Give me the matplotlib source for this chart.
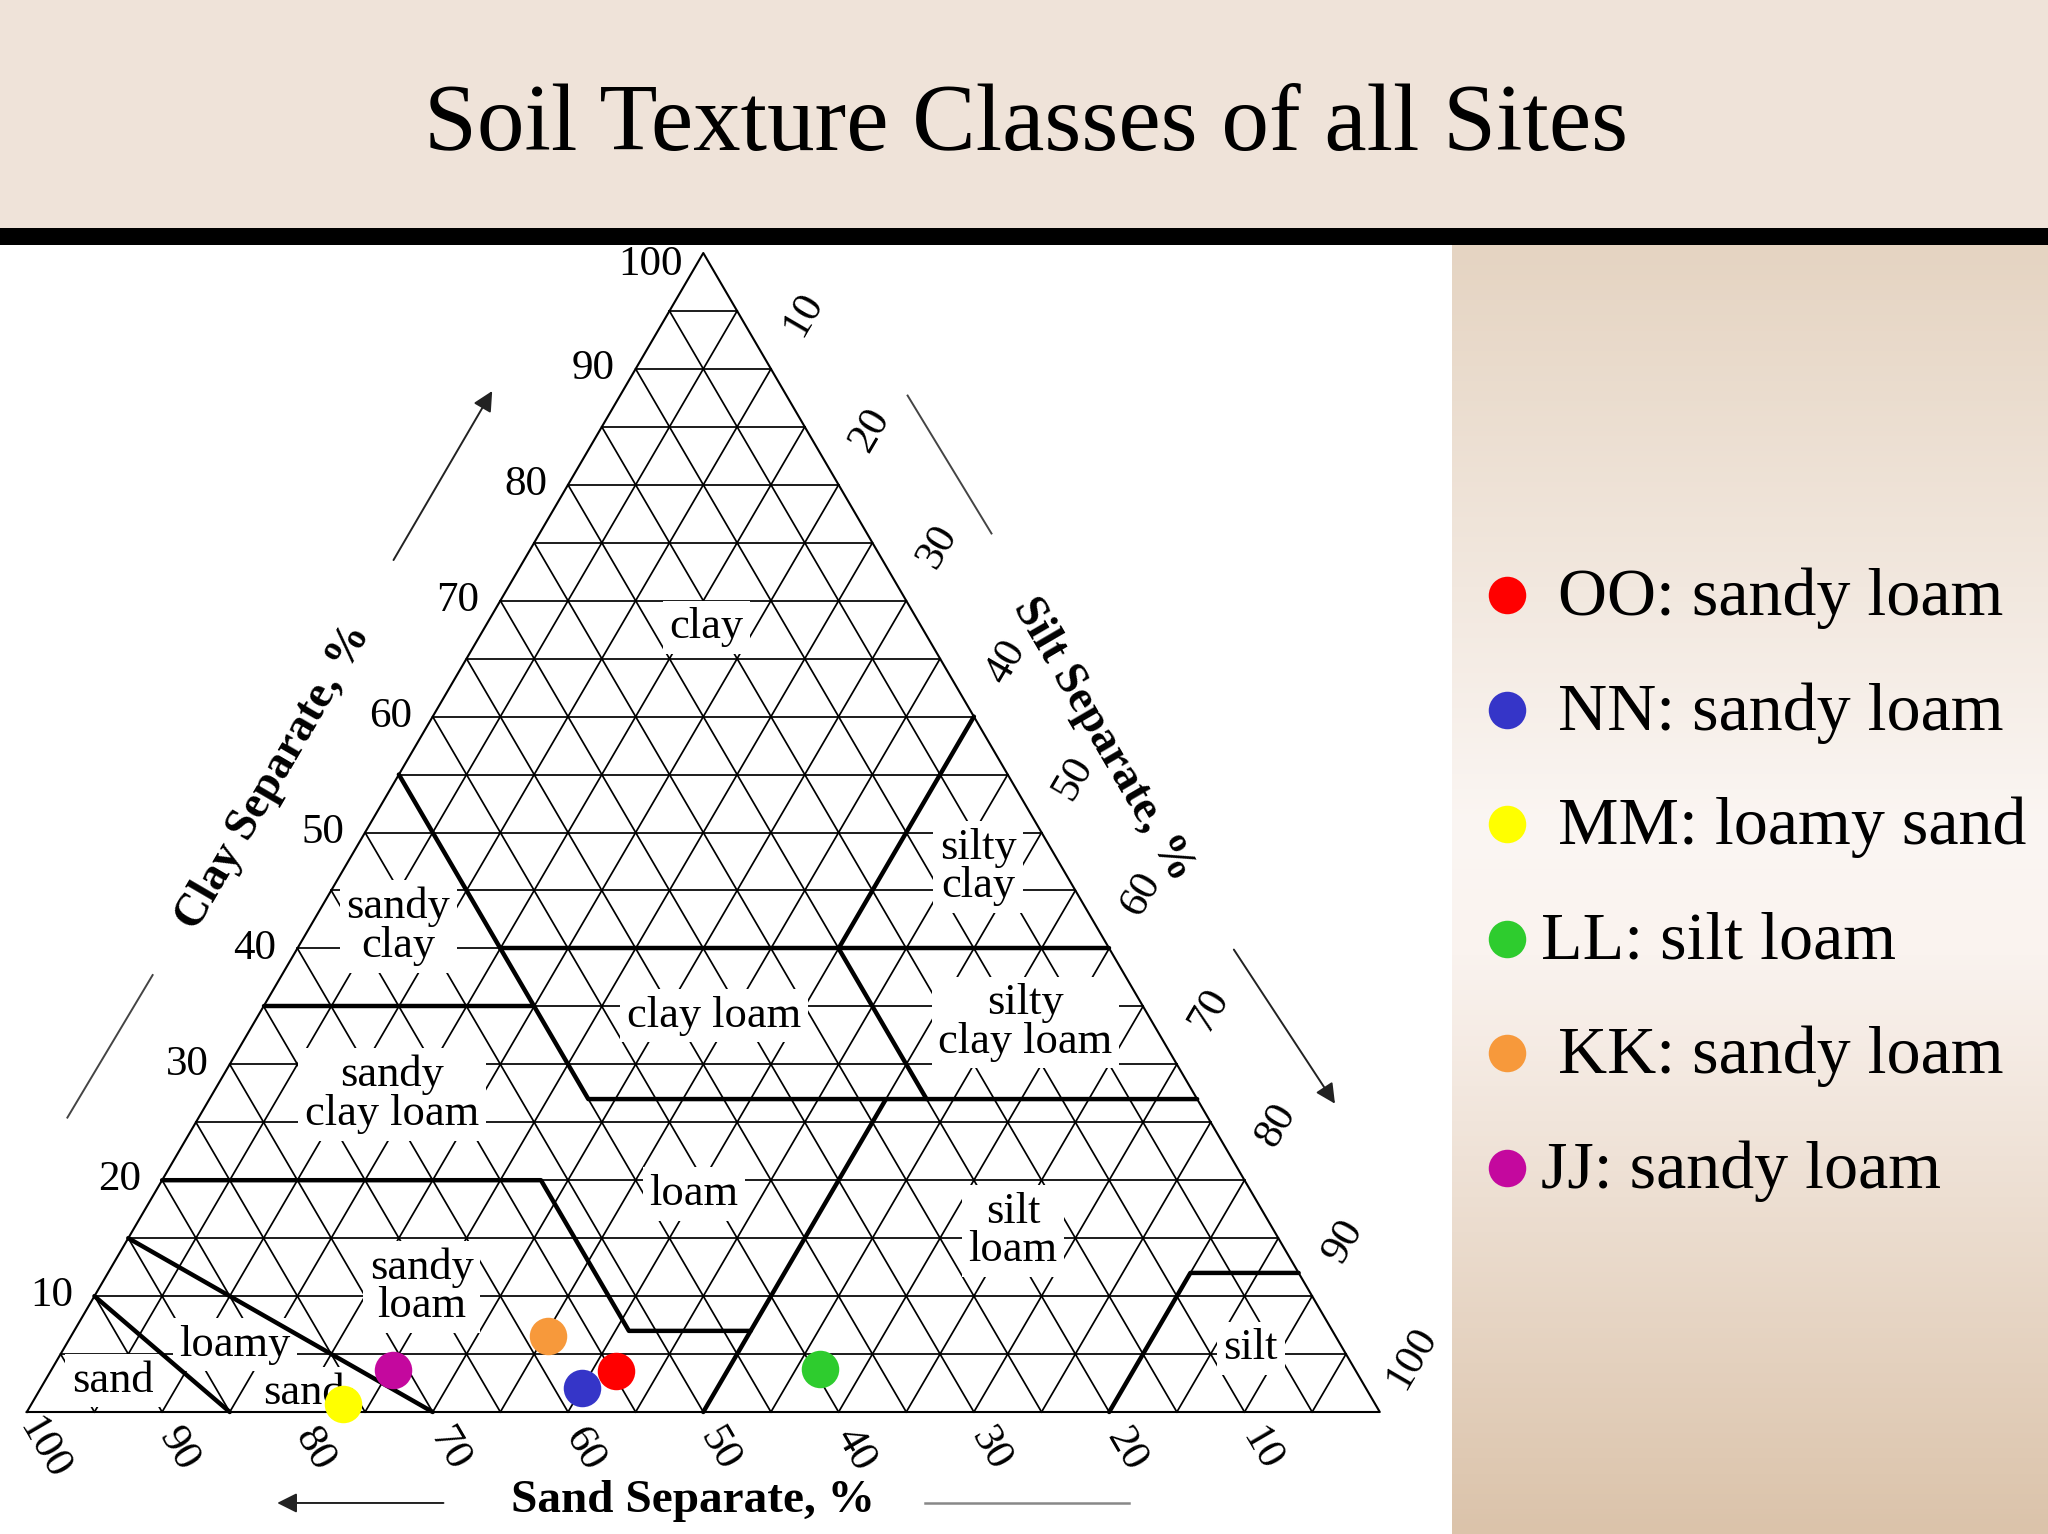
import numpy as np
import matplotlib.pyplot as plt
from matplotlib.colors import LinearSegmentedColormap

plt.rcParams['font.family'] = ['Liberation Serif', 'DejaVu Serif']

title = 'Soil Texture Classes of all Sites'

# sites (percent sand / silt / clay)
site_names = ['OO', 'NN', 'MM', 'LL', 'KK', 'JJ']
site_sand = [54.7, 57.9, 76.3, 39.5, 58.2, 71.1]
site_silt = [41.8, 40.0, 23.0, 56.8, 35.2, 25.3]
site_clay = [3.5, 2.1, 0.7, 3.7, 6.6, 3.6]
site_colors = ['#ff0000', '#3535c8', '#ffff00', '#2ecc2e', '#f7993b', '#c4089e']
legend_labels = [' OO: sandy loam', ' NN: sandy loam', ' MM: loamy sand',
                 'LL: silt loam', ' KK: sandy loam', 'JJ: sandy loam']

# USDA class boundaries as (sand, clay) vertices
boundaries = [
    [(80, 20), (52, 20), (52, 7), (43, 7)],
    [(50, 0), (23, 27)],
    [(45, 55), (45, 27), (0, 27)],
    [(65, 35), (45, 35)],
    [(45, 40), (0, 40)],
    [(0, 60), (20, 40), (20, 27)],
    [(0, 12), (8, 12), (20, 0)],
    [(85, 15), (70, 0)],
    [(90, 10), (85, 0)],
]

# class names placed at (silt, clay)
class_labels = [
    ('clay', 16.4, 67.7),
    ('silty\nclay', 46.8, 47.0),
    ('sandy\nclay', 6.5, 41.9),
    ('clay loam', 33.7, 34.2),
    ('silty\nclay loam', 57.0, 33.6),
    ('sandy\nclay loam', 13.3, 27.4),
    ('loam', 39.9, 18.8),
    ('silt\nloam', 65.1, 15.6),
    ('sandy\nloam', 23.8, 10.8),
    ('loamy', 12.5, 5.8),
    ('sand', 19.7, 1.6),
    ('sand', 5.0, 2.7),
    ('silt', 87.7, 5.5),
]

ticks = list(range(10, 101, 10))


def tern(sand, clay):
    silt = 100 - np.asarray(sand) - np.asarray(clay)
    return silt + np.asarray(clay) / 2, np.asarray(clay)


W, H = 2048, 1534
fig = plt.figure(figsize=(W / 100, H / 100), dpi=100)

# slide background
bg = fig.add_axes([0, 0, 1, 1])
bg.set_xlim(0, W)
bg.set_ylim(H, 0)
bg.axis('off')
bg.add_patch(plt.Rectangle((0, 0), W, 228, color='#efe3d9', lw=0))
bg.add_patch(plt.Rectangle((0, 228), W, 17, color='black', lw=0))
cmap = LinearSegmentedColormap.from_list(
    'panel', [(0, '#e5d4c2'), (0.45, '#fbf6f3'), (0.55, '#faf3ef'), (1, '#dbc3aa')])
grad = np.linspace(0, 1, 256).reshape(-1, 1)
bg.imshow(grad, cmap=cmap, aspect='auto', extent=(1452, W, H, 245))
bg.set_xlim(0, W)
bg.set_ylim(H, 0)

bg.text(W / 2 + 2, 150, title, fontsize=68.5, ha='center', va='baseline')

# legend on the panel
for i, (lab, col) in enumerate(zip(legend_labels, site_colors)):
    y = 595 + i * 114.5
    bg.plot(1507, y, 'o', ms=27, color=col, mec='none')
    bg.text(1541, y + 20, lab, fontsize=49, ha='left', va='baseline')

# triangle
ax = fig.add_axes([26.8 / W, (H - 1412) / H, 1353 / W, 1159 / H])
ax.set_zorder(1)
ax.patch.set_visible(False)
ax.set_xlim(0, 100)
ax.set_ylim(0, 100)
ax.axis('off')

sx, sy = 1353 / 100, 1159 / 100
ang = np.degrees(np.arctan2(sy, 0.5 * sx))

grid_kw = dict(color='black', lw=1.25, zorder=1, clip_on=False)
for k in range(5, 100, 5):
    ax.plot(*tern([100 - k, 0], [k, k]), **grid_kw)
    ax.plot(*tern([100 - k, 0], [0, 100 - k]), **grid_kw)
    ax.plot(*tern([k, k], [0, 100 - k]), **grid_kw)
ax.plot(*tern([100, 0, 0, 100], [0, 0, 100, 0]), color='black', lw=1.5,
        zorder=4, clip_on=False)

for pts in boundaries:
    sand, clay = zip(*pts)
    ax.plot(*tern(sand, clay), color='black', lw=3.2, zorder=4,
            solid_capstyle='round', clip_on=False)

for txt, silt, clay in class_labels:
    ax.text(silt + clay / 2, clay, txt, fontsize=32, ha='center', va='center',
            linespacing=0.95, zorder=3,
            bbox=dict(boxstyle='square,pad=0.15', fc='white', ec='none'))

tick_kw = dict(fontsize=31, rotation_mode='anchor', zorder=5)
for k in ticks:
    # clay along left edge (the top one sits just under the title bar)
    ax.text(k / 2 - 1.55, min(k, 99.0), str(k), ha='right', va='center', **tick_kw)
    # silt along right edge
    ax.text(50 + k / 2 + 2.35, 100 - k + 4.7, str(k), ha='center', va='center',
            rotation=ang, **tick_kw)
    # sand along bottom
    ax.text(100 - k + 1.2, -3.2, str(k), ha='center', va='center',
            rotation=-ang, **tick_kw)

ax.text(18.3, 54.8, 'Clay Separate, %', fontsize=33, fontweight='bold',
        rotation=ang, ha='center', va='center', rotation_mode='anchor')
ax.text(79.5, 58.0, 'Silt Separate, %', fontsize=33, fontweight='bold',
        rotation=-ang, ha='center', va='center', rotation_mode='anchor')
ax.text(49.2, -8.6, 'Sand Separate, %', fontsize=34, fontweight='bold',
        ha='center', va='baseline')

arrow_kw = dict(arrowstyle='-|>', color='#222222', lw=1.4, mutation_scale=30)
ax.annotate('', xy=(34.5, 88.3), xytext=(27.0, 73.3), arrowprops=arrow_kw,
            annotation_clip=False)
ax.annotate('', xy=(96.8, 26.4), xytext=(89.1, 40.1), arrowprops=arrow_kw,
            annotation_clip=False)
ax.annotate('', xy=(18.3, -7.85), xytext=(31.0, -7.85), arrowprops=arrow_kw,
            annotation_clip=False)
line_kw = dict(color='#444444', lw=1.4, clip_on=False)
ax.plot([3.0, 9.3], [25.4, 37.7], **line_kw)
ax.plot([65.1, 71.3], [87.7, 75.8], **line_kw)
ax.plot([66.4, 81.5], [-7.85, -7.85], color='#888888', lw=1.8, clip_on=False)

# sites
xs, ys = tern(site_sand, site_clay)
for x, y, col in zip(xs, ys, site_colors):
    ax.plot(x, y, 'o', ms=27, color=col, mec='none', zorder=6, clip_on=False)

fig.savefig('out.png', dpi=100)
